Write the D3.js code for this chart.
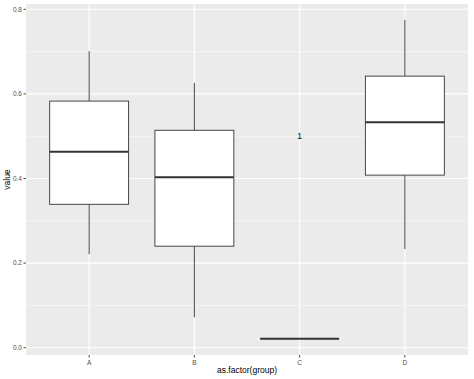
<!DOCTYPE html>
<html><head><meta charset="utf-8">
<script src="https://cdn.jsdelivr.net/npm/d3@7"></script>
<style>body{margin:0;background:#fff}svg{display:block}text{font-family:"Liberation Sans",Arial,sans-serif}</style>
</head><body><svg id="c" width="474" height="379"></svg>
<script>
const categories = ["A","B","C","D"];
const whiskerLow  = [0.221, 0.072, 0.021, 0.233];
const q1          = [0.339, 0.240, 0.021, 0.408];
const median      = [0.463, 0.403, 0.021, 0.533];
const q3          = [0.583, 0.514, 0.021, 0.642];
const whiskerHigh = [0.701, 0.626, 0.021, 0.775];
const yTicks = [0, 0.2, 0.4, 0.6, 0.8];
const yMinor = [0.1, 0.3, 0.5, 0.7];
const labelText = ["1"];
const labelCat = ["C"];
const labelY = [0.5];

const svg = d3.select("#c");
const L = 26, R = 468, T = 4, B = 355;
const x = d3.scaleLinear().domain([0.4, 4.6]).range([L, R]);
const y = d3.scaleLinear().domain([0, 0.8]).range([347.7, 9.3]);
const xc = c => x(categories.indexOf(c) + 1);

svg.append("rect").attr("x", L).attr("y", T).attr("width", R - L).attr("height", B - T).attr("fill", "#EBEBEB");
const g = svg.append("g");
yMinor.forEach(v => g.append("line").attr("x1", L).attr("x2", R).attr("y1", y(v)).attr("y2", y(v)).attr("stroke", "#fff").attr("stroke-width", 0.55));
yTicks.forEach(v => g.append("line").attr("x1", L).attr("x2", R).attr("y1", y(v)).attr("y2", y(v)).attr("stroke", "#fff").attr("stroke-width", 1.1));
categories.forEach(c => g.append("line").attr("x1", xc(c)).attr("x2", xc(c)).attr("y1", T).attr("y2", B).attr("stroke", "#fff").attr("stroke-width", 1.1));

const bw = 0.75 * (x(2) - x(1));
categories.forEach((c, i) => {
  const cx = xc(c);
  g.append("line").attr("x1", cx).attr("x2", cx).attr("y1", y(whiskerHigh[i])).attr("y2", y(q3[i])).attr("stroke", "#333").attr("stroke-width", 0.9);
  g.append("line").attr("x1", cx).attr("x2", cx).attr("y1", y(q1[i])).attr("y2", y(whiskerLow[i])).attr("stroke", "#333").attr("stroke-width", 0.9);
  g.append("rect").attr("x", cx - bw / 2).attr("y", y(q3[i])).attr("width", bw).attr("height", Math.max(0, y(q1[i]) - y(q3[i])))
    .attr("fill", "#fff").attr("stroke", "#333").attr("stroke-width", 0.9);
  g.append("line").attr("x1", cx - bw / 2).attr("x2", cx + bw / 2).attr("y1", y(median[i])).attr("y2", y(median[i])).attr("stroke", "#333").attr("stroke-width", 2);
});

labelText.forEach((t, i) => g.append("text").attr("x", xc(labelCat[i])).attr("y", y(labelY[i])).attr("dy", "0.35em")
  .attr("text-anchor", "middle").attr("font-size", 8.5).attr("fill", "#000").text(t));

// axes
yTicks.forEach(v => {
  svg.append("line").attr("x1", L - 2.5).attr("x2", L).attr("y1", y(v)).attr("y2", y(v)).attr("stroke", "#333").attr("stroke-width", 0.9);
  svg.append("text").attr("x", L - 4).attr("y", y(v)).attr("dy", "0.35em").attr("text-anchor", "end").attr("font-size", 6.5).attr("fill", "#4D4D4D").text(v.toFixed(1));
});
categories.forEach(c => {
  svg.append("line").attr("x1", xc(c)).attr("x2", xc(c)).attr("y1", B).attr("y2", B + 2.5).attr("stroke", "#333").attr("stroke-width", 0.9);
  svg.append("text").attr("x", xc(c)).attr("y", B + 9.5).attr("text-anchor", "middle").attr("font-size", 6.5).attr("fill", "#4D4D4D").text(c);
});
svg.append("text").attr("x", (L + R) / 2).attr("y", 373).attr("text-anchor", "middle").attr("font-size", 8.5).attr("fill", "#000").text("as.factor(group)");
svg.append("text").attr("transform", `translate(10,${(T + B) / 2}) rotate(-90)`).attr("text-anchor", "middle").attr("font-size", 8.5).attr("fill", "#000").text("value");
</script></body></html>
